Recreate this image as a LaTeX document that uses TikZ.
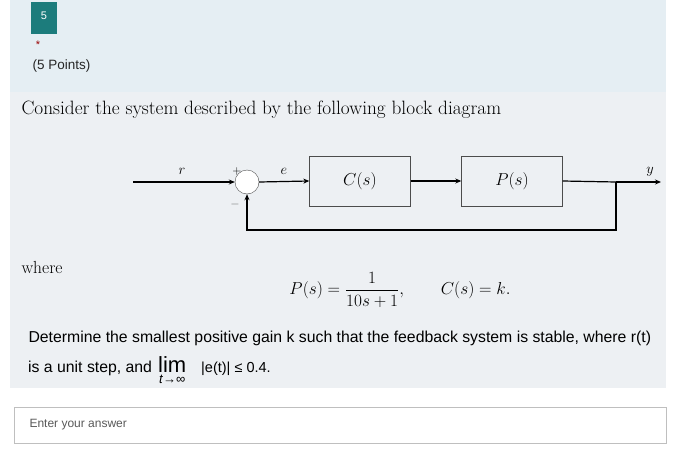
\documentclass[tikz,border=0pt]{standalone}
\usepackage{fontspec}
\newfontfamily\sans{Liberation Sans}
\usepackage{amsmath}
\usetikzlibrary{arrows.meta}
\definecolor{hdr}{HTML}{E5EEF3}
\definecolor{pnl}{HTML}{EDF0F3}
\definecolor{teal5}{HTML}{1C7C7C}
\begin{document}
\begin{tikzpicture}[x=1pt,y=-1pt,
  blk/.style={draw=black!70,fill=pnl,minimum width=101pt,minimum height=50pt,inner sep=0pt,font=\fontsize{16}{18}\selectfont},
  sig/.style={line width=1.2pt,-{Stealth[length=6pt,width=5pt]}},
  wire/.style={line width=1.2pt},
  lbl/.style={font=\fontsize{14}{16}\selectfont,inner sep=0pt}]
\useasboundingbox (0,0) rectangle (700,460);
\fill[white] (0,0) rectangle (700,460);
\fill[hdr] (10,0) rectangle (666,92);
\fill[pnl] (10,92) rectangle (666,388);
\fill[teal5] (31,2) rectangle (57,34);
\node[text=white,font=\sans\fontsize{11}{12}\selectfont] (num) at (44,16) {5};
\node[text=red!60!black,font=\sans\fontsize{11}{12}\selectfont] (star) at (38,45) {*};
\node[anchor=west,font=\sans\fontsize{13.5}{15}\selectfont,text=black!85] (pts) at (29,66) {(5 Points)};
\node[anchor=west,font=\fontsize{19.3}{22}\selectfont] (cons) at (18,110) {Consider the system described by the following block diagram};
% diagram
\coordinate (in) at (133,182);
\node[circle,draw=black!70,fill=white,minimum size=24pt,inner sep=0pt] (sum) at (247,182) {};
\node[blk] (C) at (360,181) {$C(s)$};
\node[blk] (P) at (512,181) {$P(s)$};
\coordinate (br) at (616,182);
\coordinate (out) at (661,182);
\coordinate (bl) at (616,230);
\coordinate (bb) at (247,230);
\draw[sig] (in) -- (sum.west);
\draw[sig] (sum.east) -- (C.west);
\draw[sig] (C.east) -- (P.west);
\draw[wire] (P.east) -- (br);
\draw[sig] (br) -- (out);
\draw[sig] (br) -- (bl) -- (bb) -- (sum.south);
\node[lbl] (r) at (182,171) {$r$};
\node[lbl] (e) at (284,171) {$e$};
\node[lbl] (y) at (650,172) {$y$};
\node[inner sep=0pt,font=\fontsize{12}{13}\selectfont] (pl) at (237,171) {$+$};
\node[inner sep=0pt,font=\fontsize{12}{13}\selectfont,text=black!60] (mi) at (235,204) {$-$};
\node[anchor=west,font=\fontsize{17.5}{20}\selectfont] (where) at (18,267) {where};
\node[font=\fontsize{17}{19}\selectfont] (eq) at (400,290) {$P(s)=\dfrac{1}{10s+1},\qquad C(s)=k.$};
\node[anchor=west,font=\sans\fontsize{15.8}{18}\selectfont] (q1) at (25,338) {Determine the smallest positive gain k such that the feedback system is stable, where r(t)};
\node[anchor=base west,font=\sans\fontsize{15.8}{18}\selectfont,inner sep=0pt] (q2) at (28,372) {is a unit step, and};
\node[anchor=base west,font=\sans\fontsize{22}{24}\selectfont,inner sep=0pt] (lim) at (158,372) {lim};
\node[anchor=north,font=\sans\fontsize{13}{14}\selectfont,inner sep=0pt] (sub) at ([yshift=-3pt]lim.south) {\textit{t}→∞};
\node[anchor=base west,font=\sans\fontsize{14.5}{18}\selectfont,inner sep=0pt] (q3) at (201,372) {|e(t)| ≤ 0.4.};
\draw[draw=black!25,fill=white] (14,407) rectangle (666,443);
\node[anchor=west,font=\sans\fontsize{12}{14}\selectfont,text=black!65] (ans) at (26,425) {Enter your answer};
\end{tikzpicture}
\end{document}
